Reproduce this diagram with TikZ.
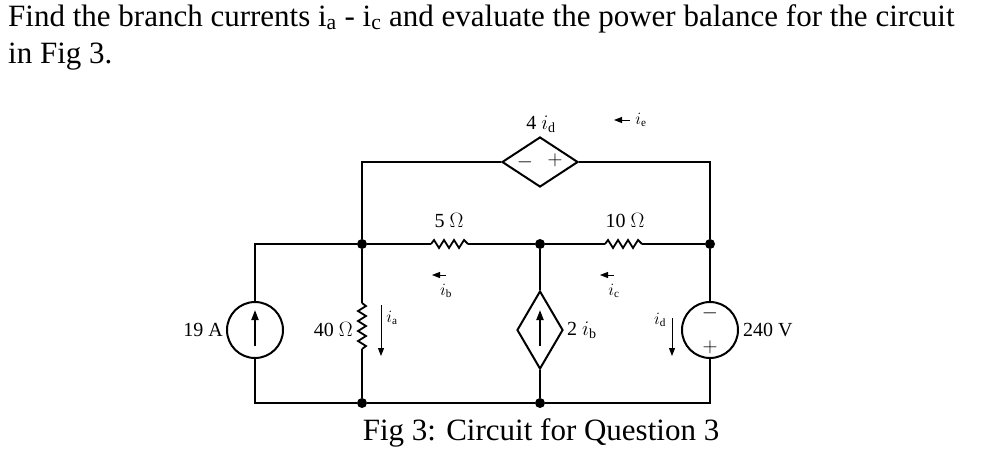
\documentclass[tikz,border=0pt]{standalone}
\usepackage{fontspec}
\setmainfont{Liberation Serif}
\usetikzlibrary{shapes.geometric,arrows.meta}
\begin{document}
\begin{tikzpicture}[x=1pt,y=-1pt,
  w/.style={line width=2pt},
  dot/.style={circle,fill,inner sep=0pt,minimum size=10pt},
  lbl/.style={font=\fontsize{20}{22}\selectfont,inner sep=1pt},
  sl/.style={font=\fontsize{16}{18}\selectfont,inner sep=1pt},
  src/.style={circle,draw,line width=2pt,minimum size=56pt,inner sep=0pt},
  dia/.style={diamond,draw,line width=2pt,inner sep=0pt},
  res/.style={line width=1.8pt},
  ar/.style={-{Triangle[length=8pt,width=6pt]},line width=1pt}]
\useasboundingbox (0,0) rectangle (1006,464);
\node[anchor=north west,inner sep=0pt,font=\fontsize{31}{37}\selectfont,align=left] (q) at (8,4)
 {Find the branch currents i\textsubscript{a} - i\textsubscript{c} and evaluate the power balance for the circuit\\ in Fig 3.};
\node[font=\fontsize{31}{36}\selectfont] (cap) at (541,433) {Fig 3: Circuit for Question 3};
% coordinates
\coordinate (tl) at (362,162); \coordinate (tr) at (710,162);
\node[dot] (n1) at (362,244) {}; \node[dot] (n2) at (540,244) {}; \node[dot] (n3) at (710,244) {};
\node[dot] (b1) at (362,403) {}; \node[dot] (b2) at (540,403) {}; \coordinate (b3) at (710,403);
\coordinate (ml) at (255,244); \coordinate (bl) at (255,403);
% top dependent voltage source
\node[dia,minimum width=76pt,minimum height=50pt] (dv) at (540,162) {};
\node[lbl] at (525,162) {$-$}; \node[lbl] at (555,160) {$+$};
\node[lbl] (dvl) at (541,124) {4 $i$\textsubscript{d}};
\draw[w] (dv.west) -- (tl) -- (n1);
\draw[w] (dv.east) -- (tr) -- (n3);
% 19A source
\node[src] (s1) at (255,330) {};
\draw[w] (n1) -- (ml) -- (s1.north); \draw[w] (s1.south) -- (bl) -- (b1);
\draw[-{Triangle[length=10pt,width=7pt]},line width=2pt] (255,346) -- (255,310);
\node[lbl,anchor=east] (l19) at (224,330) {19 A};
% 40 ohm
\draw[w] (n1) -- (362,303);
\draw[res] (362,303) -- (366,306) -- (358,311) -- (366,316) -- (358,321) -- (366,326) -- (358,331) -- (366,336) -- (358,341) -- (366,346) -- (362,349);
\draw[w] (362,349) -- (b1);
\node[lbl,anchor=east] (l40) at (354,330) {40 $\Omega$};
\draw[ar] (381,305) -- (381,356); \node[sl] at (392,318) {$i_{\mathrm a}$};
% 5 ohm
\draw[w] (n1) -- (431,244);
\draw[res] (431,244) -- (434,240) -- (439,248) -- (444,240) -- (449,248) -- (454,240) -- (459,248) -- (464,240) -- (468,244);
\draw[w] (468,244) -- (n2);
\node[lbl] (l5) at (449,221) {5 $\Omega$};
\draw[ar] (446,275) -- (432,275); \node[sl] at (446,291) {$i_{\mathrm b}$};
% 10 ohm
\draw[w] (n2) -- (605,244);
\draw[res] (605,244) -- (608,240) -- (613,248) -- (618,240) -- (623,248) -- (628,240) -- (633,248) -- (638,240) -- (642,244);
\draw[w] (642,244) -- (n3);
\node[lbl] (l10) at (625,221) {10 $\Omega$};
\draw[ar] (614,275) -- (600,275); \node[sl] at (614,291) {$i_{\mathrm c}$};
\draw[ar] (630,120) -- (614,120); \node[sl] at (641,120) {$i_{\mathrm e}$};
% dependent current source
\node[dia,minimum width=46pt,minimum height=78pt] (dc) at (540,330) {};
\draw[w] (n2) -- (dc.north); \draw[w] (dc.south) -- (b2);
\draw[-{Triangle[length=10pt,width=7pt]},line width=2pt] (540,346) -- (540,310);
\node[lbl,anchor=west] (l2) at (566,330) {2 $i_{\mathrm b}$};
% 240 V
\node[src] (s2) at (710,330) {};
\node[lbl] at (710,313) {$-$}; \node[lbl] at (710,347) {$+$};
\draw[w] (n3) -- (s2.north); \draw[w] (s2.south) -- (b3) -- (b2) -- (b1);
\node[lbl,anchor=west] (l240) at (742,330) {240 V};
\draw[ar] (672,318) -- (672,356); \node[sl] at (660,320) {$i_{\mathrm d}$};
\end{tikzpicture}
\end{document}
